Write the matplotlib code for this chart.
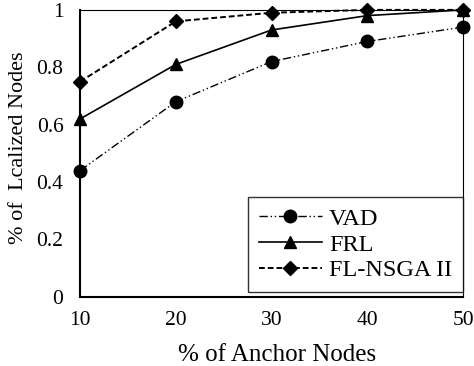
import matplotlib
matplotlib.use("Agg")
import matplotlib.pyplot as plt

x = [10, 20, 30, 40, 50]
vad = [0.44, 0.68, 0.82, 0.89, 0.94]
frl = [0.62, 0.81, 0.93, 0.98, 1.0]
fl_nsga = [0.75, 0.96, 0.99, 1.0, 1.0]
xticks = [10, 20, 30, 40, 50]
yticks = [0, 0.2, 0.4, 0.6, 0.8, 1]
ylabels = ["0", "0.2", "0.4", "0.6", "0.8", "1"]

plt.rcParams['font.family'] = ['Liberation Serif', 'DejaVu Serif']

fig = plt.figure(figsize=(4.74, 3.66), dpi=100)
ax = fig.add_axes([0.169, 0.189, 0.808, 0.784])

ax.plot(x, vad, color='black', lw=1.0, dashes=(6, 2, 1, 2, 1, 2), marker='o', ms=9, label='VAD', clip_on=False)
ax.plot(x, frl, color='black', lw=1.2, linestyle='-', marker='^', ms=8, label='FRL', clip_on=False)
ax.plot(x, fl_nsga, color='black', lw=1.4, dashes=(3, 1.5), marker='D', ms=7, label='FL-NSGA II', clip_on=False)

ax.set_xlim(10, 50)
ax.set_ylim(0, 1)
ax.set_xticks(xticks)
ax.set_yticks(yticks)
ax.set_yticklabels(ylabels)
ax.tick_params(length=0, labelsize=15.5)
ax.tick_params(axis='x', pad=10)
ax.tick_params(axis='y', pad=12)
for s in ['left', 'bottom']:
    ax.spines[s].set_linewidth(1.5)
for s in ['top', 'right']:
    ax.spines[s].set_linewidth(0.8)

ax.set_xlabel('% of Anchor Nodes', fontsize=18, labelpad=10)
ax.xaxis.label.set_x(0.515)
ax.set_ylabel('% of  Lcalized Nodes', fontsize=16, labelpad=6)
ax.yaxis.label.set_y(0.52)

leg = ax.legend(loc='lower right', fontsize=17.5, frameon=True, fancybox=False,
                edgecolor='black', handlelength=2.6, handletextpad=0.3,
                borderpad=0.45, labelspacing=0.15, borderaxespad=0,
                bbox_to_anchor=(1.0, 0.016))
leg.get_frame().set_linewidth(1.0)

fig.savefig('out.png', dpi=100)
